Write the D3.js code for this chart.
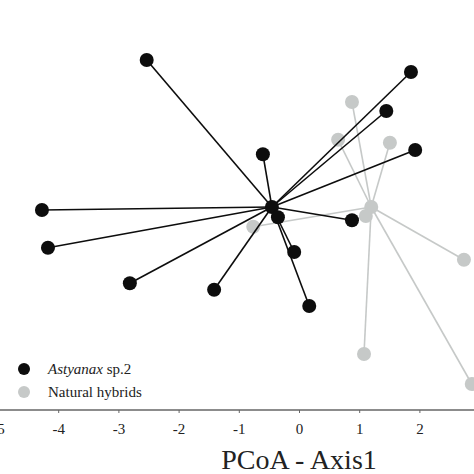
<!DOCTYPE html><html><head><meta charset="utf-8"><script src="https://d3js.org/d3.v7.min.js"></script>
<style>body{margin:0;background:#fff}text{font-family:"Liberation Serif","DejaVu Serif",serif}</style></head><body><svg width="474" height="474"></svg>
<script>
const blackCentroid=[-0.45,0];
const blackX=[-2.53,1.86,1.45,1.93,-0.60,-4.27,-4.17,-0.35,0.88,-0.08,-2.81,-1.41,0.17];
const blackY=[2.45,2.25,1.6,0.95,0.88,-0.05,-0.68,-0.17,-0.22,-0.75,-1.27,-1.38,-1.65];
const greyCentroid=[1.2,0];
const greyX=[0.88,0.65,1.51,-0.76,1.11,2.74,1.08,2.87];
const greyY=[1.75,1.12,1.07,-0.33,-0.15,-0.88,-2.45,-2.95];
const ticks=[-5,-4,-3,-2,-1,0,1,2,3];
const svg=d3.select("svg");
const x=d3.scaleLinear().domain([0,1]).range([299,359.2]);
const y=d3.scaleLinear().domain([0,1]).range([207,147]);
const axisG=svg.append("g").attr("transform","translate(0,410)");
axisG.append("line").attr("x1",0).attr("x2",474).attr("stroke","#333").attr("stroke-width",1.5);
axisG.call(d3.axisBottom(x).tickValues(ticks).tickSize(3).tickFormat(d=>String(d)))
 .call(g=>g.select(".domain").remove())
 .call(g=>g.selectAll("text").attr("font-family","Liberation Serif").attr("font-size",15).attr("fill","#222").attr("dy","1.2em"))
 .call(g=>g.selectAll("line").attr("stroke","#666"));
svg.append("text").attr("x",299).attr("y",469).attr("text-anchor","middle").attr("font-size",28).attr("fill","#222").text("PCoA - Axis1");
function group(xs,ys,c,col){
 const g=svg.append("g");
 xs.forEach((v,i)=>g.append("line").attr("x1",x(c[0])).attr("y1",y(c[1])).attr("x2",x(v)).attr("y2",y(ys[i])).attr("stroke",col).attr("stroke-width",1.6));
 g.append("circle").attr("cx",x(c[0])).attr("cy",y(c[1])).attr("r",7).attr("fill",col);
 xs.forEach((v,i)=>g.append("circle").attr("cx",x(v)).attr("cy",y(ys[i])).attr("r",7).attr("fill",col));
}
group(greyX,greyY,greyCentroid,"#c6c9c8");
group(blackX,blackY,blackCentroid,"#0d0d0d");
const leg=[["Astyanax"," sp.2","#0d0d0d"],["Natural hybrids","","#c6c9c8"]];
leg.forEach((d,i)=>{
 svg.append("circle").attr("cx",24).attr("cy",369+i*23).attr("r",6).attr("fill",d[2]);
 const t=svg.append("text").attr("x",48).attr("y",374+i*23).attr("font-size",15).attr("fill","#222");
 if(i===0){t.append("tspan").attr("font-style","italic").text(d[0]);t.append("tspan").text(d[1]);}
 else t.text(d[0]);
});
</script></body></html>
